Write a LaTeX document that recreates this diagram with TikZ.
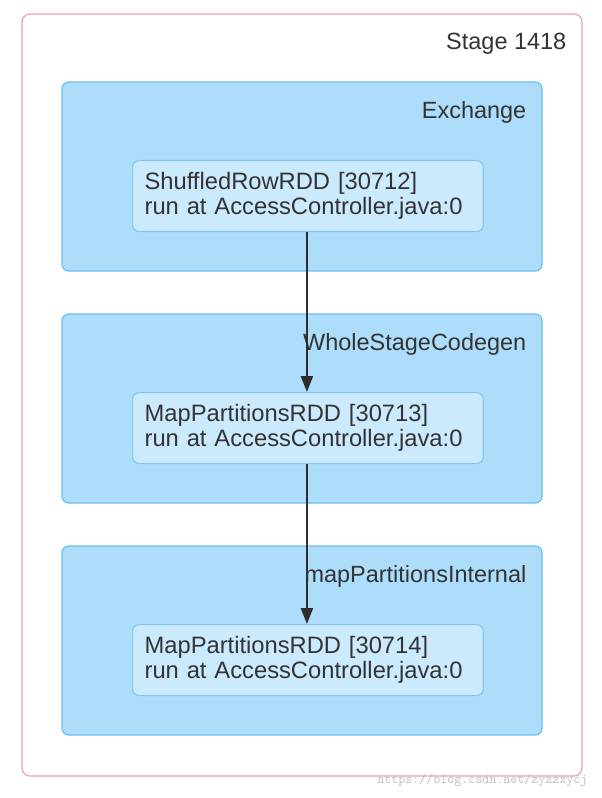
\documentclass[tikz,border=0pt]{standalone}
\usepackage{fontspec}
\setmainfont{Liberation Sans}
\usetikzlibrary{arrows.meta}
\definecolor{stg}{HTML}{E8A3AE}
\definecolor{clf}{HTML}{ADDDFA}
\definecolor{cls}{HTML}{6DBDF0}
\definecolor{ndf}{HTML}{CCEAFD}
\definecolor{nds}{HTML}{84C8F2}
\definecolor{txt}{HTML}{333333}
\begin{document}
\begin{tikzpicture}[x=0.75pt,y=-0.75pt,
  cluster/.style={draw=cls,fill=clf,rounded corners=5pt,line width=0.9pt},
  rdd/.style={draw=nds,fill=ndf,rounded corners=5pt,line width=0.9pt,minimum width=254.25pt,minimum height=53.25pt,anchor=north west,text width=245pt,align=left,inner xsep=9pt,inner ysep=0pt,font=\fontsize{17.8}{18.8}\selectfont,text=txt},
  lbl/.style={anchor=east,font=\fontsize{17.6}{18}\selectfont,text=txt},
  edge/.style={-{Triangle[length=12pt,width=9pt]},line width=1.8pt,draw=txt!90!black}]
\useasboundingbox (0,0) rectangle (602,798);
\draw[stg,fill=white,rounded corners=6pt,line width=0.9pt] (22,14) rectangle (582,776);
\node[lbl] (stage) at (571,44) {Stage 1418};
\draw[cluster] (62,82) rectangle (542,271);
\draw[cluster] (62,314) rectangle (542,503);
\draw[cluster] (62,546) rectangle (542,735);
\node[lbl] (l1) at (531,112) {Exchange};
\node[lbl] (l2) at (531,344) {WholeStageCodegen};
\node[lbl] (l3) at (531,576) {mapPartitionsInternal};
\node[rdd] (n1) at (132,160) {ShuffledRowRDD [30712]\\run at AccessController.java:0};
\node[rdd] (n2) at (132,392) {MapPartitionsRDD [30713]\\run at AccessController.java:0};
\node[rdd] (n3) at (132,624) {MapPartitionsRDD [30714]\\run at AccessController.java:0};
\draw[edge] ([xshift=-0.75pt]n1.south) -- ([xshift=-0.75pt]n2.north);
\draw[edge] ([xshift=-0.75pt]n2.south) -- ([xshift=-0.75pt]n3.north);
\node[anchor=east,font=\ttfamily\fontsize{10}{10}\selectfont,text=black!25] (wm) at (592,780) {https://blog.csdn.net/zyzzxycj};
\end{tikzpicture}
\end{document}
